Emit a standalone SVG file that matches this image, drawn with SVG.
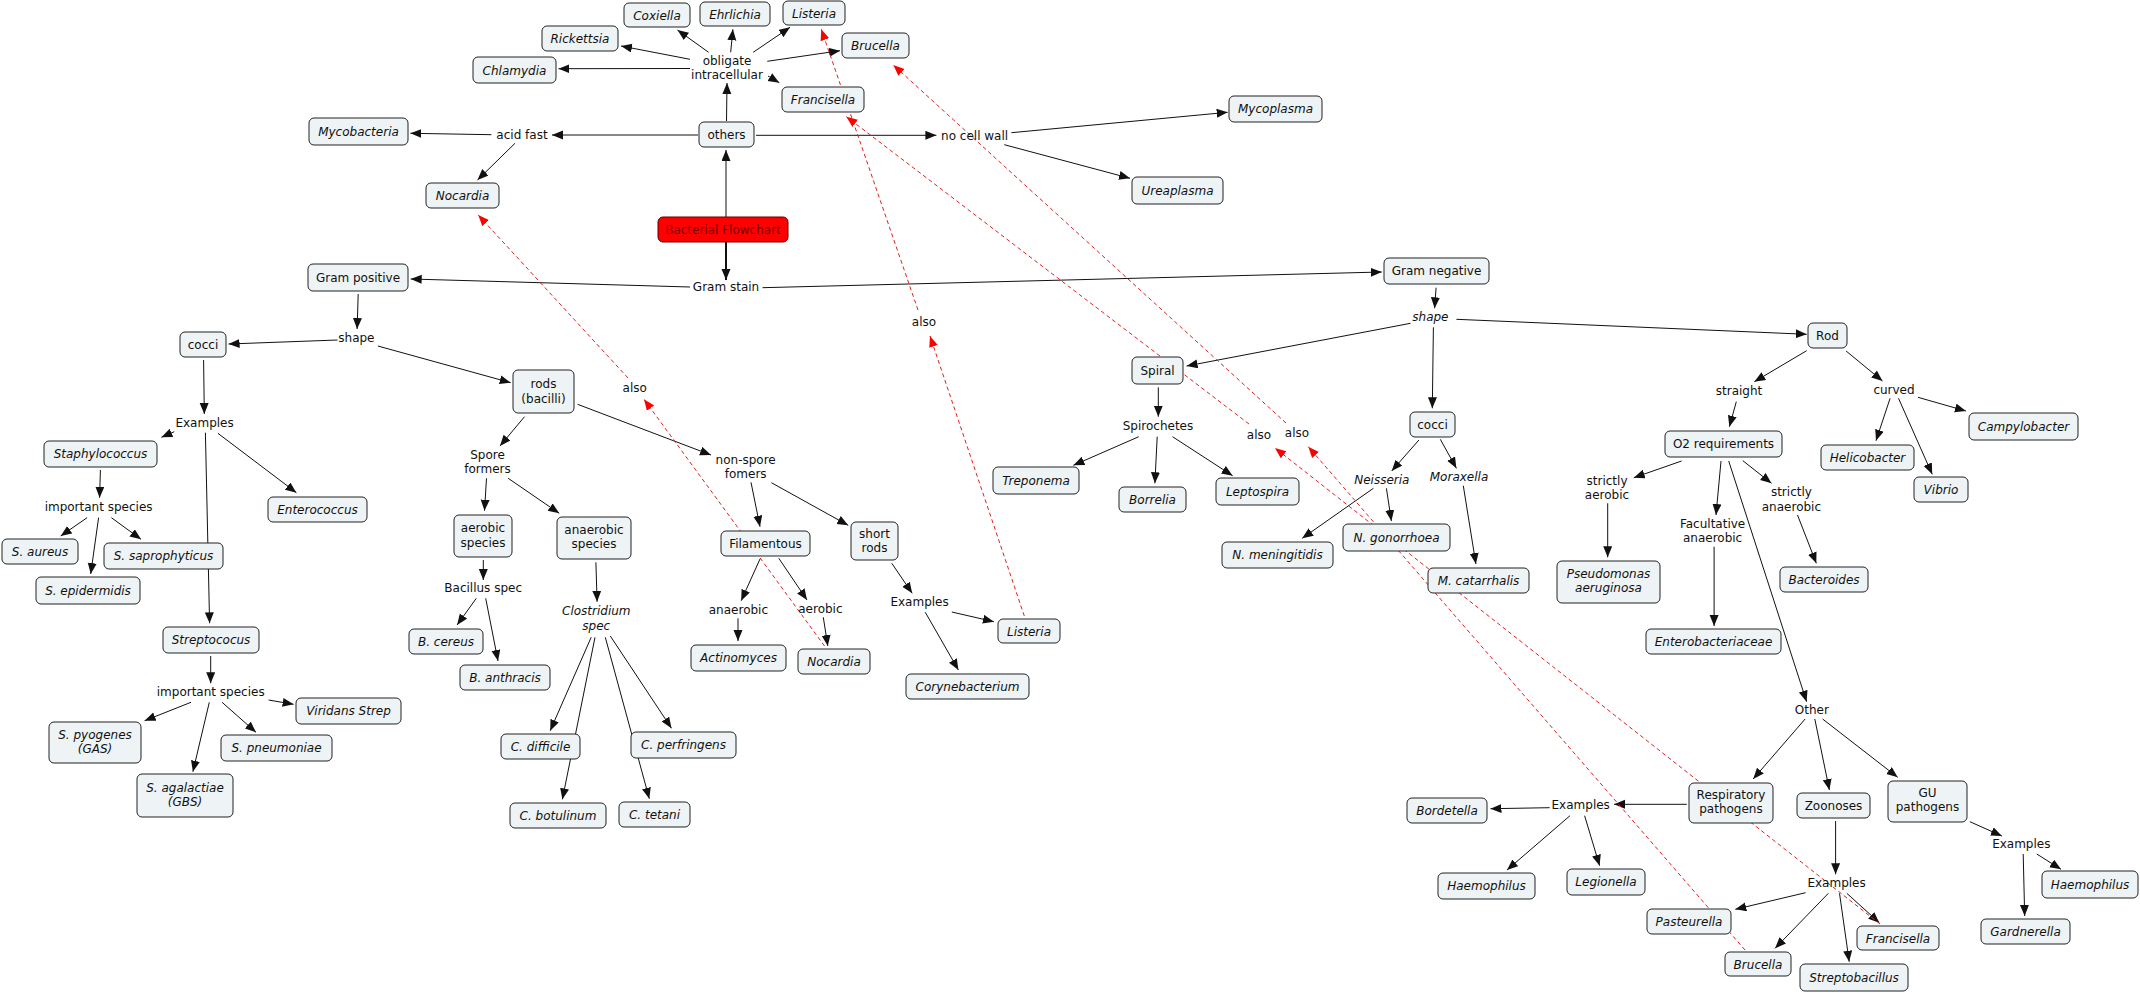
<svg xmlns="http://www.w3.org/2000/svg" width="2140" height="994" viewBox="0 0 2140 994">
<style>
text{font-family:"DejaVu Sans","Liberation Sans",sans-serif;font-size:12px;fill:#111;text-anchor:middle}
.i{font-style:italic}
.n rect{fill:#eef3f5;stroke:#222;stroke-width:1}
.c line{stroke:#111;stroke-width:1;fill:none}
.c line.a{marker-end:url(#ah)}
.c line.r{stroke:#e02020;stroke-dasharray:4,3}
.c line.ra{stroke:#e02020;stroke-dasharray:4,3;marker-end:url(#rh)}
</style>
<defs>
<marker id="ah" markerUnits="userSpaceOnUse" markerWidth="12" markerHeight="10" refX="11" refY="4.5" orient="auto"><path d="M0,0 L11,4.5 L0,9 z" fill="#111"/></marker>
<marker id="rh" markerUnits="userSpaceOnUse" markerWidth="12" markerHeight="10" refX="11" refY="4.5" orient="auto"><path d="M0,0 L11,4.5 L0,9 z" fill="#f00"/></marker>
</defs>
<rect width="2140" height="994" fill="#fff"/>
<g id="connectors" class="c">
<line class="a" x1="726" y1="217" x2="726" y2="150"/>
<line class="a" x1="726" y1="242" x2="726" y2="280" style="stroke-width:2"/>
<line class="a" x1="726.5" y1="121" x2="727" y2="83"/>
<line class="a" x1="690" y1="68.5" x2="558.5" y2="68.7"/>
<line class="a" x1="690" y1="59.3" x2="621" y2="46"/>
<line class="a" x1="708.6" y1="52.3" x2="677.5" y2="30"/>
<line class="a" x1="730.7" y1="52.3" x2="732.9" y2="29.3"/>
<line class="a" x1="753.2" y1="52.3" x2="790" y2="27.3"/>
<line class="a" x1="767.3" y1="61.3" x2="840" y2="50.7"/>
<line class="a" x1="768" y1="76" x2="779.3" y2="82.7"/>
<line class="a" x1="698" y1="135" x2="552" y2="135"/>
<line class="a" x1="491.4" y1="134.7" x2="410.4" y2="133.3"/>
<line class="a" x1="515" y1="143.3" x2="477.5" y2="180"/>
<line class="a" x1="756" y1="135.3" x2="936.4" y2="135.3"/>
<line class="a" x1="1011.4" y1="132.7" x2="1227.7" y2="112.3"/>
<line class="a" x1="1004.3" y1="144.7" x2="1130" y2="178.3"/>
<line class="a" x1="690" y1="287" x2="410.7" y2="279"/>
<line class="a" x1="762.5" y1="287.7" x2="1381.8" y2="272"/>
<line class="a" x1="358.2" y1="294" x2="357.1" y2="329"/>
<line class="a" x1="337.5" y1="340" x2="228.6" y2="344"/>
<line class="a" x1="377.9" y1="346" x2="510.7" y2="382.7"/>
<line class="a" x1="203.6" y1="360" x2="204.3" y2="414"/>
<line class="a" x1="174.3" y1="431.7" x2="161.4" y2="437.3"/>
<line class="a" x1="217.9" y1="433.3" x2="296.4" y2="492.7"/>
<line class="a" x1="205.4" y1="432.7" x2="209.6" y2="623.3"/>
<line class="a" x1="100.4" y1="470" x2="99.6" y2="497.7"/>
<line class="a" x1="87.1" y1="517.7" x2="60.7" y2="536"/>
<line class="a" x1="98.6" y1="517.7" x2="90.7" y2="574"/>
<line class="a" x1="111.4" y1="517.7" x2="141" y2="539.3"/>
<line class="a" x1="210.7" y1="656" x2="210.7" y2="683.3"/>
<line class="a" x1="191" y1="702.3" x2="144.6" y2="720.7"/>
<line class="a" x1="209.3" y1="702.3" x2="192.9" y2="771.7"/>
<line class="a" x1="222.1" y1="702.3" x2="256" y2="732.3"/>
<line class="a" x1="268.6" y1="700" x2="293.6" y2="704.3"/>
<line class="a" x1="524.5" y1="416.7" x2="500" y2="446"/>
<line class="a" x1="577.6" y1="404.3" x2="711" y2="455"/>
<line class="a" x1="486.5" y1="478.3" x2="484.5" y2="510.7"/>
<line class="a" x1="508.2" y1="478.3" x2="559.2" y2="513.3"/>
<line class="a" x1="483.3" y1="560" x2="483.3" y2="580"/>
<line class="a" x1="476.3" y1="598.3" x2="457.1" y2="625"/>
<line class="a" x1="485.7" y1="598.3" x2="498" y2="661"/>
<line class="a" x1="595.9" y1="562.3" x2="597.1" y2="601.7"/>
<line class="a" x1="591.2" y1="637.3" x2="550.2" y2="730.7"/>
<line class="a" x1="595" y1="637.3" x2="562.4" y2="799.3"/>
<line class="a" x1="605.3" y1="637.3" x2="649.3" y2="798.7"/>
<line class="a" x1="610.3" y1="636" x2="671.5" y2="728.3"/>
<line class="a" x1="751" y1="482.3" x2="760" y2="526.7"/>
<line class="a" x1="771.4" y1="482.7" x2="848.2" y2="525.3"/>
<line class="a" x1="760" y1="559" x2="741.2" y2="600.7"/>
<line class="a" x1="778.8" y1="558.3" x2="807" y2="600"/>
<line class="a" x1="738" y1="618.3" x2="738" y2="641"/>
<line class="a" x1="823.3" y1="617.3" x2="827.8" y2="646"/>
<line class="a" x1="891.8" y1="563.3" x2="912.2" y2="593.3"/>
<line class="a" x1="951.8" y1="612" x2="993.9" y2="621.7"/>
<line class="a" x1="925.3" y1="612.3" x2="958.4" y2="670"/>
<line class="a" x1="1436.1" y1="287.7" x2="1434.6" y2="308.3"/>
<line class="a" x1="1410.5" y1="323.3" x2="1186.6" y2="366"/>
<line class="a" x1="1433.4" y1="327.3" x2="1432.3" y2="408.3"/>
<line class="a" x1="1456.4" y1="319.3" x2="1806.7" y2="334.3"/>
<line class="a" x1="1158.3" y1="387.3" x2="1158.3" y2="416.7"/>
<line class="a" x1="1138.8" y1="436.7" x2="1073.4" y2="465.3"/>
<line class="a" x1="1157.2" y1="436.7" x2="1154.9" y2="483.3"/>
<line class="a" x1="1172.5" y1="436.7" x2="1232.6" y2="475.7"/>
<line class="a" x1="1418.9" y1="440" x2="1391.7" y2="471"/>
<line class="a" x1="1440.3" y1="439.3" x2="1456.4" y2="468.3"/>
<line class="a" x1="1373.4" y1="488.3" x2="1302.2" y2="538.3"/>
<line class="a" x1="1386.4" y1="488.3" x2="1391.4" y2="521"/>
<line class="a" x1="1463.3" y1="485.7" x2="1475.9" y2="564"/>
<line class="a" x1="1806.7" y1="350.7" x2="1754.3" y2="381.7"/>
<line class="a" x1="1846.1" y1="351" x2="1882.5" y2="381"/>
<line class="a" x1="1736.3" y1="401.7" x2="1729.4" y2="426.7"/>
<line class="a" x1="1890.1" y1="398.3" x2="1876" y2="440.7"/>
<line class="a" x1="1898.5" y1="398.3" x2="1932.2" y2="474.3"/>
<line class="a" x1="1918" y1="397.3" x2="1965.9" y2="411"/>
<line class="a" x1="1681.6" y1="461" x2="1633.8" y2="477.7"/>
<line class="a" x1="1721" y1="461" x2="1716" y2="515"/>
<line class="a" x1="1742.8" y1="460.7" x2="1771.5" y2="483.3"/>
<line class="a" x1="1728.7" y1="461" x2="1806.6" y2="701.7"/>
<line class="a" x1="1607.7" y1="503.3" x2="1607.7" y2="557.3"/>
<line class="a" x1="1714.1" y1="546.7" x2="1714.1" y2="626"/>
<line class="a" x1="1797.5" y1="515" x2="1816.3" y2="563.3"/>
<line class="a" x1="1805.1" y1="719" x2="1753.2" y2="779"/>
<line class="a" x1="1814.8" y1="719" x2="1829.4" y2="790"/>
<line class="a" x1="1822.6" y1="719" x2="1897.7" y2="777.3"/>
<line class="a" x1="1686.8" y1="804.3" x2="1614.1" y2="804.3"/>
<line class="a" x1="1549.7" y1="807.7" x2="1490.5" y2="808.7"/>
<line class="a" x1="1570" y1="815.7" x2="1507" y2="870"/>
<line class="a" x1="1584.6" y1="815.7" x2="1599.6" y2="865.7"/>
<line class="a" x1="1835.6" y1="821" x2="1835.6" y2="874.3"/>
<line class="a" x1="1805.6" y1="892.7" x2="1735.3" y2="909.3"/>
<line class="a" x1="1828.4" y1="893.3" x2="1775.1" y2="948.3"/>
<line class="a" x1="1839.5" y1="893.3" x2="1849.2" y2="961.7"/>
<line class="a" x1="1846.8" y1="893.3" x2="1879.3" y2="922.7"/>
<line class="a" x1="1969.9" y1="821.7" x2="2001.9" y2="836"/>
<line class="a" x1="2023.2" y1="854" x2="2024.7" y2="916"/>
<line class="a" x1="2036.8" y1="854" x2="2061" y2="869.3"/>
<line class="ra" x1="824.5" y1="646" x2="644" y2="399.3"/>
<line class="ra" x1="628" y1="378" x2="478.2" y2="215"/>
<line class="ra" x1="1024.3" y1="616" x2="930" y2="336"/>
<line class="ra" x1="918" y1="310" x2="821.3" y2="29.3"/>
<line class="ra" x1="1880" y1="924" x2="1275" y2="448"/>
<line class="ra" x1="1249" y1="424" x2="846.4" y2="116.7"/>
<line class="ra" x1="1745" y1="950" x2="1308.3" y2="446.7"/>
<line class="ra" x1="1286" y1="423" x2="893.3" y2="65"/>
</g>
<g id="n-flowchart"><rect x="658" y="217" width="130" height="25" rx="5" fill="#f00" stroke="#600" stroke-width="1"/><text x="723" y="234" style="fill:#700">Bacterial Flowchart</text></g>
<g id="n-others" class="n"><rect x="699" y="122" width="55" height="25" rx="5"/><text x="726.5" y="139">others</text></g>
<g id="l-obligate"><text x="727" y="65">obligate</text><text x="727" y="79">intracellular</text></g>
<g id="n-chlamydia" class="n"><rect x="473" y="57" width="83" height="26" rx="5"/><text class="i" x="514.5" y="74.5">Chlamydia</text></g>
<g id="n-rickettsia" class="n"><rect x="542" y="26" width="76" height="25" rx="5"/><text class="i" x="580" y="43">Rickettsia</text></g>
<g id="n-coxiella" class="n"><rect x="624" y="3" width="66" height="24" rx="5"/><text class="i" x="657" y="19.5">Coxiella</text></g>
<g id="n-ehrlichia" class="n"><rect x="700" y="2" width="70" height="24" rx="5"/><text class="i" x="735" y="18.5">Ehrlichia</text></g>
<g id="n-listeria-top" class="n"><rect x="783" y="1" width="62" height="24" rx="5"/><text class="i" x="814" y="17.5">Listeria</text></g>
<g id="n-brucella-top" class="n"><rect x="842" y="33" width="67" height="25" rx="5"/><text class="i" x="875.5" y="50">Brucella</text></g>
<g id="n-francisella-top" class="n"><rect x="782" y="87" width="82" height="25" rx="5"/><text class="i" x="823" y="104">Francisella</text></g>
<g id="l-acidfast"><text x="522" y="139">acid fast</text></g>
<g id="n-mycobacteria" class="n"><rect x="309" y="118" width="99" height="27" rx="5"/><text class="i" x="358.5" y="135.5">Mycobacteria</text></g>
<g id="n-nocardia-top" class="n"><rect x="426" y="183" width="73" height="25" rx="5"/><text class="i" x="462.5" y="200">Nocardia</text></g>
<g id="l-nocellwall"><text x="974.6" y="140">no cell wall</text></g>
<g id="n-mycoplasma" class="n"><rect x="1229" y="96" width="93" height="26" rx="5"/><text class="i" x="1275.5" y="113">Mycoplasma</text></g>
<g id="n-ureaplasma" class="n"><rect x="1132" y="177" width="91" height="27" rx="5"/><text class="i" x="1177.5" y="194.5">Ureaplasma</text></g>
<g id="l-gramstain"><text x="726" y="291">Gram stain</text></g>
<g id="n-grampos" class="n"><rect x="308" y="264" width="100" height="27" rx="5"/><text x="358" y="281.5">Gram positive</text></g>
<g id="n-gramneg" class="n"><rect x="1384" y="258" width="105" height="26" rx="5"/><text x="1436.5" y="275">Gram negative</text></g>
<g id="l-shape1"><text x="356.4" y="342">shape</text></g>
<g id="n-cocci1" class="n"><rect x="180" y="332" width="46" height="25" rx="5"/><text x="203" y="349">cocci</text></g>
<g id="n-rods" class="n"><rect x="513" y="370" width="61" height="43" rx="5"/><text x="543.5" y="388">rods</text><text x="543.5" y="402.5">(bacilli)</text></g>
<g id="l-examples1"><text x="204.6" y="427">Examples</text></g>
<g id="n-staph" class="n"><rect x="44" y="441" width="113" height="26" rx="5"/><text class="i" x="100.5" y="458">Staphylococcus</text></g>
<g id="l-imp1"><text x="98.6" y="511">important species</text></g>
<g id="n-enterococcus" class="n"><rect x="268" y="497" width="99" height="25" rx="5"/><text class="i" x="317.5" y="514">Enterococcus</text></g>
<g id="n-saureus" class="n"><rect x="2" y="539" width="76" height="25" rx="5"/><text class="i" x="40" y="556">S. aureus</text></g>
<g id="n-ssaprophyticus" class="n"><rect x="104" y="543" width="119" height="26" rx="5"/><text class="i" x="163.5" y="560">S. saprophyticus</text></g>
<g id="n-sepidermidis" class="n"><rect x="36" y="577" width="104" height="27" rx="5"/><text class="i" x="88" y="594.5">S. epidermidis</text></g>
<g id="n-streptococus" class="n"><rect x="163" y="627" width="96" height="26" rx="5"/><text class="i" x="211" y="644">Streptococus</text></g>
<g id="l-imp2"><text x="210.7" y="695.7">important species</text></g>
<g id="n-viridans" class="n"><rect x="296" y="698" width="105" height="26" rx="5"/><text class="i" x="348.5" y="715">Viridans Strep</text></g>
<g id="n-spyogenes" class="n"><rect x="49" y="722" width="92" height="41" rx="5"/><text class="i" x="95" y="739">S. pyogenes</text><text class="i" x="95" y="753.3">(GAS)</text></g>
<g id="n-spneumoniae" class="n"><rect x="221" y="735" width="111" height="26" rx="5"/><text class="i" x="276.5" y="752">S. pneumoniae</text></g>
<g id="n-sagalactiae" class="n"><rect x="137" y="774" width="96" height="43" rx="5"/><text class="i" x="185" y="791.7">S. agalactiae</text><text class="i" x="185" y="806">(GBS)</text></g>
<g id="l-spore"><text x="487.5" y="458.7">Spore</text><text x="487.5" y="473">formers</text></g>
<g id="n-aerobic" class="n"><rect x="454" y="515" width="58" height="42" rx="5"/><text x="483" y="532.3">aerobic</text><text x="483" y="546.7">species</text></g>
<g id="n-anaerobic" class="n"><rect x="557" y="517" width="74" height="42" rx="5"/><text x="594" y="534">anaerobic</text><text x="594" y="548.3">species</text></g>
<g id="l-bacillus"><text x="483.2" y="591.7">Bacillus spec</text></g>
<g id="n-bcereus" class="n"><rect x="409" y="629" width="74" height="25" rx="5"/><text class="i" x="446" y="646">B. cereus</text></g>
<g id="n-banthracis" class="n"><rect x="460" y="665" width="90" height="25" rx="5"/><text class="i" x="505" y="682">B. anthracis</text></g>
<g id="l-clostridium"><text class="i" x="596.3" y="614.7">Clostridium</text><text class="i" x="596.3" y="630">spec</text></g>
<g id="n-cdifficile" class="n"><rect x="501" y="734" width="79" height="25" rx="5"/><text class="i" x="540.5" y="751">C. difficile</text></g>
<g id="n-cperfringens" class="n"><rect x="631" y="732" width="105" height="26" rx="5"/><text class="i" x="683.5" y="749">C. perfringens</text></g>
<g id="n-cbotulinum" class="n"><rect x="510" y="803" width="96" height="25" rx="5"/><text class="i" x="558" y="820">C. botulinum</text></g>
<g id="n-ctetani" class="n"><rect x="619" y="802" width="71" height="25" rx="5"/><text class="i" x="654.5" y="819">C. tetani</text></g>
<g id="l-nonspore"><text x="745.7" y="464">non-spore</text><text x="745.7" y="478">fomers</text></g>
<g id="n-filamentous" class="n"><rect x="721" y="531" width="89" height="25" rx="5"/><text x="765.5" y="548">Filamentous</text></g>
<g id="n-shortrods" class="n"><rect x="851" y="522" width="47" height="38" rx="5"/><text x="874.5" y="538">short</text><text x="874.5" y="552.3">rods</text></g>
<g id="l-anaerobic"><text x="738.4" y="614">anaerobic</text></g>
<g id="l-aerobic"><text x="820.4" y="613">aerobic</text></g>
<g id="n-actinomyces" class="n"><rect x="691" y="645" width="95" height="26" rx="5"/><text class="i" x="738.5" y="662">Actinomyces</text></g>
<g id="n-nocardia-low" class="n"><rect x="798" y="649" width="72" height="25" rx="5"/><text class="i" x="834" y="666">Nocardia</text></g>
<g id="l-examples2"><text x="919.6" y="606">Examples</text></g>
<g id="n-listeria-low" class="n"><rect x="998" y="619" width="62" height="24" rx="5"/><text class="i" x="1029" y="635.5">Listeria</text></g>
<g id="n-corynebacterium" class="n"><rect x="906" y="674" width="123" height="25" rx="5"/><text class="i" x="967.5" y="691">Corynebacterium</text></g>
<g id="l-also1"><text x="634.7" y="392">also</text></g>
<g id="l-also2"><text x="924" y="326.3">also</text></g>
<g id="l-shape2"><text class="i" x="1430.4" y="321">shape</text></g>
<g id="n-spiral" class="n"><rect x="1132" y="357" width="51" height="27" rx="5"/><text x="1157.5" y="374.5">Spiral</text></g>
<g id="l-spirochetes"><text x="1158" y="429.7">Spirochetes</text></g>
<g id="n-treponema" class="n"><rect x="993" y="467" width="86" height="27" rx="5"/><text class="i" x="1036" y="484.5">Treponema</text></g>
<g id="n-borrelia" class="n"><rect x="1119" y="487" width="67" height="25" rx="5"/><text class="i" x="1152.5" y="504">Borrelia</text></g>
<g id="n-leptospira" class="n"><rect x="1216" y="478" width="83" height="27" rx="5"/><text class="i" x="1257.5" y="495.5">Leptospira</text></g>
<g id="l-also3"><text x="1259" y="439">also</text></g>
<g id="l-also4"><text x="1297" y="437">also</text></g>
<g id="n-cocci2" class="n"><rect x="1410" y="412" width="45" height="25" rx="5"/><text x="1432.5" y="429">cocci</text></g>
<g id="l-neisseria"><text class="i" x="1381.8" y="484.3">Neisseria</text></g>
<g id="l-moraxella"><text class="i" x="1459" y="480.7">Moraxella</text></g>
<g id="n-nmeningitidis" class="n"><rect x="1222" y="542" width="111" height="26" rx="5"/><text class="i" x="1277.5" y="559">N. meningitidis</text></g>
<g id="n-ngonorrhoea" class="n"><rect x="1343" y="524" width="107" height="27" rx="5"/><text class="i" x="1396.5" y="541.5">N. gonorrhoea</text></g>
<g id="n-mcatarrhalis" class="n"><rect x="1428" y="568" width="101" height="25" rx="5"/><text class="i" x="1478.5" y="585">M. catarrhalis</text></g>
<g id="n-rod" class="n"><rect x="1808" y="323" width="39" height="25" rx="5"/><text x="1827.5" y="340">Rod</text></g>
<g id="l-straight"><text x="1739" y="394.7">straight</text></g>
<g id="l-curved"><text x="1894" y="394">curved</text></g>
<g id="n-o2" class="n"><rect x="1665" y="431" width="117" height="26" rx="5"/><text x="1723.5" y="448">O2 requirements</text></g>
<g id="n-helicobacter" class="n"><rect x="1821" y="445" width="93" height="25" rx="5"/><text class="i" x="1867.5" y="462">Helicobacter</text></g>
<g id="n-vibrio" class="n"><rect x="1914" y="477" width="54" height="25" rx="5"/><text class="i" x="1941" y="494">Vibrio</text></g>
<g id="n-campylobacter" class="n"><rect x="1969" y="413" width="109" height="27" rx="5"/><text class="i" x="2023.5" y="430.5">Campylobacter</text></g>
<g id="l-strictaer"><text x="1607" y="485">strictly</text><text x="1607" y="499.3">aerobic</text></g>
<g id="l-facult"><text x="1712.6" y="528">Facultative</text><text x="1712.6" y="542.3">anaerobic</text></g>
<g id="l-strictanaer"><text x="1791.4" y="496.3">strictly</text><text x="1791.4" y="510.7">anaerobic</text></g>
<g id="n-pseudomonas" class="n"><rect x="1557" y="561" width="103" height="42" rx="5"/><text class="i" x="1608.5" y="578">Pseudomonas</text><text class="i" x="1608.5" y="592.3">aeruginosa</text></g>
<g id="n-bacteroides" class="n"><rect x="1780" y="567" width="88" height="25" rx="5"/><text class="i" x="1824" y="584">Bacteroides</text></g>
<g id="n-enterobacteriaceae" class="n"><rect x="1646" y="629" width="135" height="25" rx="5"/><text class="i" x="1713.5" y="646">Enterobacteriaceae</text></g>
<g id="l-other"><text x="1811.9" y="714">Other</text></g>
<g id="n-respiratory" class="n"><rect x="1689" y="783" width="84" height="40" rx="5"/><text x="1731" y="799">Respiratory</text><text x="1731" y="813.3">pathogens</text></g>
<g id="n-zoonoses" class="n"><rect x="1797" y="793" width="73" height="25" rx="5"/><text x="1833.5" y="810">Zoonoses</text></g>
<g id="n-gu" class="n"><rect x="1888" y="781" width="79" height="41" rx="5"/><text x="1927.5" y="796.7">GU</text><text x="1927.5" y="811.3">pathogens</text></g>
<g id="l-examples3"><text x="1580.7" y="808.7">Examples</text></g>
<g id="l-examples4"><text x="1836.6" y="886.7">Examples</text></g>
<g id="l-examples5"><text x="2021.3" y="848">Examples</text></g>
<g id="n-bordetella" class="n"><rect x="1407" y="798" width="80" height="25" rx="5"/><text class="i" x="1447" y="815">Bordetella</text></g>
<g id="n-haemophilus1" class="n"><rect x="1438" y="873" width="97" height="26" rx="5"/><text class="i" x="1486.5" y="890">Haemophilus</text></g>
<g id="n-legionella" class="n"><rect x="1567" y="869" width="78" height="26" rx="5"/><text class="i" x="1606" y="886">Legionella</text></g>
<g id="n-pasteurella" class="n"><rect x="1647" y="909" width="84" height="25" rx="5"/><text class="i" x="1689" y="926">Pasteurella</text></g>
<g id="n-francisella-low" class="n"><rect x="1857" y="926" width="82" height="24" rx="5"/><text class="i" x="1898" y="942.5">Francisella</text></g>
<g id="n-brucella-low" class="n"><rect x="1725" y="952" width="66" height="24" rx="5"/><text class="i" x="1758" y="968.5">Brucella</text></g>
<g id="n-streptobacillus" class="n"><rect x="1800" y="964" width="108" height="27" rx="5"/><text class="i" x="1854" y="981.5">Streptobacillus</text></g>
<g id="n-haemophilus2" class="n"><rect x="2042" y="871" width="96" height="27" rx="5"/><text class="i" x="2090" y="888.5">Haemophilus</text></g>
<g id="n-gardnerella" class="n"><rect x="1981" y="919" width="89" height="25" rx="5"/><text class="i" x="2025.5" y="936">Gardnerella</text></g>
</svg>
